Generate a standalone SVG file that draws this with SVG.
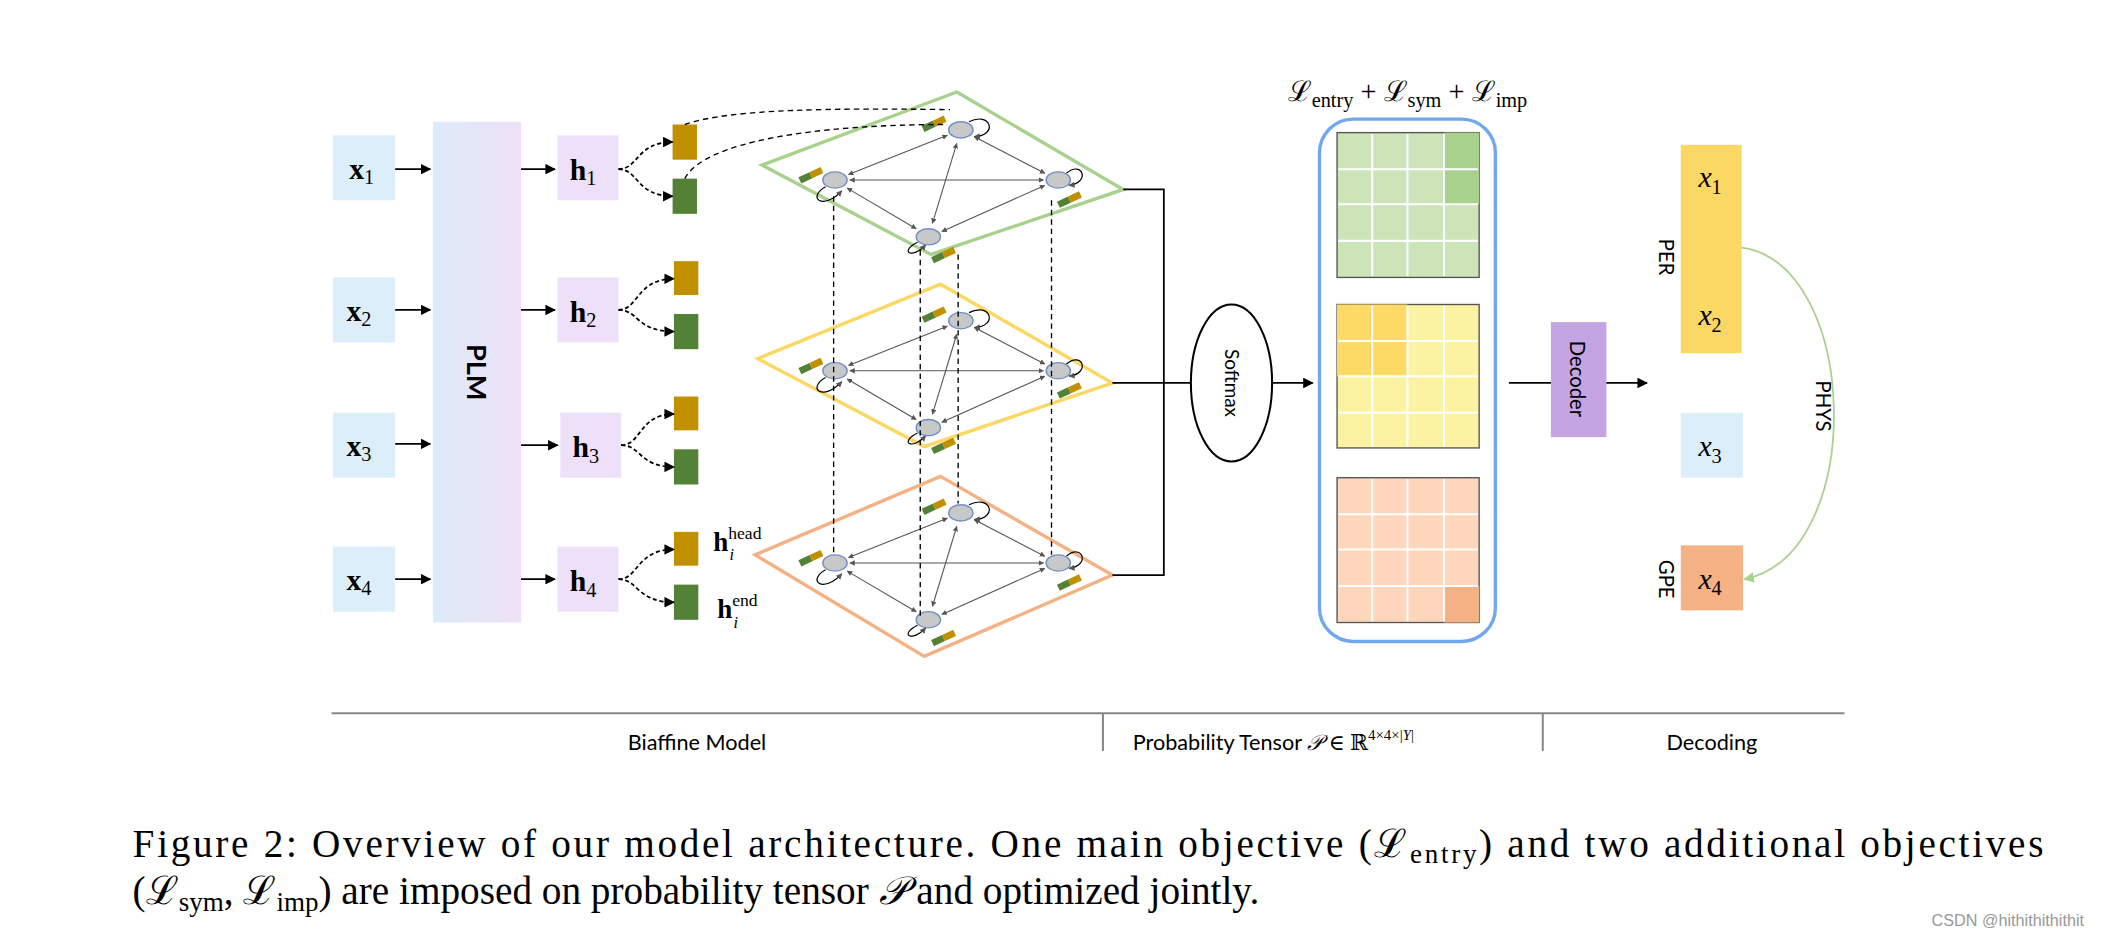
<svg xmlns="http://www.w3.org/2000/svg" width="2122" height="936" viewBox="0 0 2122 936">
<defs>
<linearGradient id="plm" x1="0" x2="1" y1="0" y2="0"><stop offset="0" stop-color="#dcebf9"/><stop offset="1" stop-color="#efe0f8"/></linearGradient>
<marker id="ar" viewBox="0 0 10 10" refX="9" refY="5" markerWidth="6" markerHeight="6" orient="auto-start-reverse"><path d="M0,0L10,5L0,10z" fill="#000"/></marker>
<marker id="ag" viewBox="0 0 10 10" refX="9" refY="5" markerWidth="5" markerHeight="5" orient="auto-start-reverse"><path d="M0,0L10,5L0,10z" fill="#555"/></marker>
<marker id="agr" viewBox="0 0 10 10" refX="9" refY="5" markerWidth="6" markerHeight="6" orient="auto"><path d="M0,0L10,5L0,10z" fill="#a9d18e"/></marker>
<g id="bars" transform="rotate(-25)"><rect x="0" y="0" width="9" height="5" fill="#538135"/><rect x="9" y="0" width="9" height="5" fill="#c09000"/></g>
<g id="graph">
<g stroke="#555" stroke-width="0.8" fill="none" marker-start="url(#ag)" marker-end="url(#ag)">
<line x1="700" y1="100" x2="627" y2="129"/><line x1="720" y1="101" x2="772" y2="128"/><line x1="707" y1="106" x2="689" y2="165"/>
<line x1="628" y1="133" x2="771" y2="133"/><line x1="626" y1="139" x2="677" y2="169"/><line x1="772" y1="137" x2="696" y2="171"/>
</g>
<g fill="none" stroke="#000" stroke-width="0.9" marker-end="url(#ag)">
<path d="M716,90 C732,82 738,100 720,101"/><path d="M610,138 C596,146 608,156 622,141"/><path d="M788,128 C800,118 806,135 790,137"/><path d="M678,179 C664,186 674,192 684,181"/>
</g>
<g fill="#c8c8c8" stroke="#6f8fc8" stroke-width="1"><ellipse cx="710" cy="96" rx="9" ry="6"/><ellipse cx="617" cy="133" rx="9" ry="6"/><ellipse cx="782" cy="133" rx="9" ry="6"/><ellipse cx="686" cy="175" rx="9" ry="6"/></g>
<use href="#bars" transform="translate(681,93)"/><use href="#bars" transform="translate(590,131)"/><use href="#bars" transform="translate(781,149)"/><use href="#bars" transform="translate(688,190)"/>
</g>
</defs>
<rect width="2122" height="936" fill="#fff"/>
<g transform="scale(1.3533)" font-family="Liberation Serif, DejaVu Serif, serif">
<g id="inputs" font-weight="bold" font-size="22">
<g id="x1"><rect x="246" y="100" width="46" height="48" fill="#ddeefb"/><text x="258" y="132">x<tspan font-size="15" font-weight="normal" dy="4">1</tspan></text></g>
<g id="x2"><rect x="246" y="205" width="46" height="48" fill="#ddeefb"/><text x="256" y="237">x<tspan font-size="15" font-weight="normal" dy="4">2</tspan></text></g>
<g id="x3"><rect x="246" y="305" width="46" height="48" fill="#ddeefb"/><text x="256" y="337">x<tspan font-size="15" font-weight="normal" dy="4">3</tspan></text></g>
<g id="x4"><rect x="246" y="404" width="46" height="48" fill="#ddeefb"/><text x="256" y="436">x<tspan font-size="15" font-weight="normal" dy="4">4</tspan></text></g>
</g>
<g id="plmnode"><rect x="320" y="90" width="65" height="370" fill="url(#plm)"/><text transform="translate(345,275) rotate(90)" text-anchor="middle" font-family="Lato, Liberation Sans, sans-serif" font-weight="bold" font-size="20">PLM</text></g>
<g id="hidden" font-weight="bold" font-size="22">
<g id="h1"><rect x="412" y="100" width="45" height="48" fill="#eee0f8"/><text x="421" y="133">h<tspan font-size="15" font-weight="normal" dy="4">1</tspan></text></g>
<g id="h2"><rect x="412" y="205" width="45" height="48" fill="#eee0f8"/><text x="421" y="238">h<tspan font-size="15" font-weight="normal" dy="4">2</tspan></text></g>
<g id="h3"><rect x="414" y="305" width="45" height="48" fill="#eee0f8"/><text x="423" y="338">h<tspan font-size="15" font-weight="normal" dy="4">3</tspan></text></g>
<g id="h4"><rect x="412" y="404" width="45" height="48" fill="#eee0f8"/><text x="421" y="437">h<tspan font-size="15" font-weight="normal" dy="4">4</tspan></text></g>
</g>
<g id="headend">
<rect x="497" y="92" width="18" height="26" fill="#c09000"/><rect x="497" y="132" width="18" height="26" fill="#538135"/>
<rect x="498" y="193" width="18" height="25" fill="#c09000"/><rect x="498" y="232" width="18" height="26" fill="#538135"/>
<rect x="498" y="293" width="18" height="25" fill="#c09000"/><rect x="498" y="332" width="18" height="26" fill="#538135"/>
<rect x="498" y="393" width="18" height="25" fill="#c09000"/><rect x="498" y="432" width="18" height="26" fill="#538135"/>
<text x="527" y="407" font-weight="bold" font-size="20">h<tspan font-size="13" font-weight="normal" dy="-9">head</tspan></text>
<text x="539" y="414" font-style="italic" font-size="12">i</text>
<text x="530" y="457" font-weight="bold" font-size="20">h<tspan font-size="13" font-weight="normal" dy="-9">end</tspan></text>
<text x="542" y="464" font-style="italic" font-size="12">i</text>
</g>
<g id="layers">
<polygon points="707,68 830,140 688,188 563,122" fill="none" stroke="#a9d18e" stroke-width="2.5"/>
<polygon points="695,210 822,283 683,330 560,265" fill="none" stroke="#fbd764" stroke-width="2.5"/>
<polygon points="695,352 822,425 683,485 558,410" fill="none" stroke="#f4b183" stroke-width="2.5"/>
<use href="#graph"/><use href="#graph" transform="translate(0,141)"/><use href="#graph" transform="translate(0,283)"/>
</g>
<g id="matrices">
<rect x="975" y="88" width="130" height="386" rx="25" fill="none" stroke="#6fa8f0" stroke-width="2.5"/>
<rect x="988" y="98" width="105" height="107" fill="#cce4b8" stroke="#555"/>
<rect x="1067" y="98" width="26" height="53" fill="#a9d18e"/>
<rect x="988" y="225" width="105" height="106" fill="#fbf3a2" stroke="#555"/>
<rect x="988" y="225" width="52" height="53" fill="#fdd966"/>
<rect x="988" y="353" width="105" height="107" fill="#fdd6bc" stroke="#555"/>
<rect x="1067" y="433" width="26" height="27" fill="#f4b183"/>
<g stroke="#fff" stroke-width="1.5">
<path d="M1014,99V204M1040,99V204M1067,99V204M989,125H1092M989,151H1092M989,178H1092"/>
<path d="M1014,226V330M1040,226V330M1067,226V330M989,252H1092M989,278H1092M989,305H1092"/>
<path d="M1014,354V459M1040,354V459M1067,354V459M989,380H1092M989,406H1092M989,433H1092"/>
</g>
<text x="1040" y="75" text-anchor="middle" font-size="21">ℒ<tspan font-size="15" dy="4">entry</tspan><tspan dy="-4"> + ℒ</tspan><tspan font-size="15" dy="4">sym</tspan><tspan dy="-4"> + ℒ</tspan><tspan font-size="15" dy="4">imp</tspan></text>
</g>
<g id="softmax"><ellipse cx="910" cy="283" rx="30" ry="58" fill="#fff" stroke="#000" stroke-width="1.5"/><text transform="translate(905,283) rotate(90)" text-anchor="middle" font-family="Lato, Liberation Sans, sans-serif" font-size="14">Softmax</text></g>
<g id="decoder"><rect x="1146" y="238" width="41" height="85" fill="#c4a5e1"/><text transform="translate(1160,280) rotate(90)" text-anchor="middle" font-family="Lato, Liberation Sans, sans-serif" font-size="15">Decoder</text></g>
<g id="outputs" font-style="italic" font-size="22">
<rect x="1242" y="107" width="45" height="154" fill="#fbd764"/>
<text x="1255" y="138">x<tspan font-style="normal" font-size="15" dy="5">1</tspan></text>
<text x="1255" y="240">x<tspan font-style="normal" font-size="15" dy="5">2</tspan></text>
<rect x="1242" y="305" width="46" height="48" fill="#ddeefb"/><text x="1255" y="337">x<tspan font-style="normal" font-size="15" dy="5">3</tspan></text>
<rect x="1242" y="403" width="46" height="48" fill="#f4b183"/><text x="1255" y="435">x<tspan font-style="normal" font-size="15" dy="5">4</tspan></text>
<g font-style="normal" font-family="Lato, Liberation Sans, sans-serif" font-size="15"><text transform="translate(1226,190) rotate(90)" text-anchor="middle">PER</text><text transform="translate(1226,428) rotate(90)" text-anchor="middle">GPE</text><text transform="translate(1342,300) rotate(90)" text-anchor="middle">PHYS</text></g>
</g>
<g id="connectors" fill="none" stroke="#000" stroke-width="1.3">
<g marker-end="url(#ar)">
<path d="M292,125H318"/><path d="M292,229H318"/><path d="M292,328H318"/><path d="M292,428H318"/>
<path d="M385,125H410"/><path d="M385,229H410"/><path d="M385,329H412"/><path d="M385,428H410"/>
</g>
<g stroke-dasharray="3,2" marker-end="url(#ar)">
<path d="M457,125C472,125 470,105 497,105"/><path d="M457,125C472,125 470,145 497,145"/>
<path d="M457,229C472,229 470,206 498,206"/><path d="M457,229C472,229 470,245 498,245"/>
<path d="M459,329C474,329 472,306 498,306"/><path d="M459,329C474,329 472,345 498,345"/>
<path d="M457,428C472,428 470,406 498,406"/><path d="M457,428C472,428 470,445 498,445"/>
</g>
<g stroke-dasharray="4,3" stroke-width="1">
<path d="M506,92C540,80 620,80 702,81"/><path d="M506,132C520,105 600,92 700,92"/>
<path d="M616,145V410M680,185V455M708,188V372M777,148V410"/>
</g>
<path d="M830,140H860V425H822M822,283H880"/>
<path d="M940,283H970" marker-end="url(#ar)"/>
<path d="M1115,283H1146"/><path d="M1187,283H1217" marker-end="url(#ar)"/>
<path d="M1287,183C1375,195 1380,410 1289,428" stroke="#a9d18e" stroke-width="1.3" marker-end="url(#agr)"/>
</g>
<g id="axis" font-family="Lato, Liberation Sans, sans-serif" font-size="16">
<path d="M245,527H1363M815,527V555M1140,527V555" stroke="#888" stroke-width="1.5"/>
<text x="515" y="554" text-anchor="middle">Biaffine Model</text>
<text x="837" y="554">Probability Tensor  <tspan font-family="Liberation Serif, DejaVu Serif, serif" font-style="italic">𝒫</tspan><tspan font-family="Liberation Serif, DejaVu Serif, serif"> ∈ ℝ</tspan><tspan font-family="Liberation Serif, DejaVu Serif, serif" font-size="11" dy="-7">4×4×|<tspan font-style="italic">Y</tspan>|</tspan></text>
<text x="1265" y="554" text-anchor="middle">Decoding</text>
</g>
<g id="caption" font-size="29">
<text x="98" y="633" textLength="1412" lengthAdjust="spacing">Figure 2: Overview of our model architecture.  One main objective (ℒ<tspan font-size="20" dy="5">entry</tspan><tspan dy="-5">) and two additional objectives</tspan></text>
<text x="98" y="668">(ℒ<tspan font-size="20" dy="5">sym</tspan><tspan dy="-5">, ℒ</tspan><tspan font-size="20" dy="5">imp</tspan><tspan dy="-5">) are imposed on probability tensor </tspan><tspan font-style="italic">𝒫 </tspan>and optimized jointly.</text>
</g>
<text x="1540" y="684" text-anchor="end" font-family="Liberation Sans, sans-serif" font-size="12" fill="#999">CSDN @hithithithithit</text>
</g>
</svg>
